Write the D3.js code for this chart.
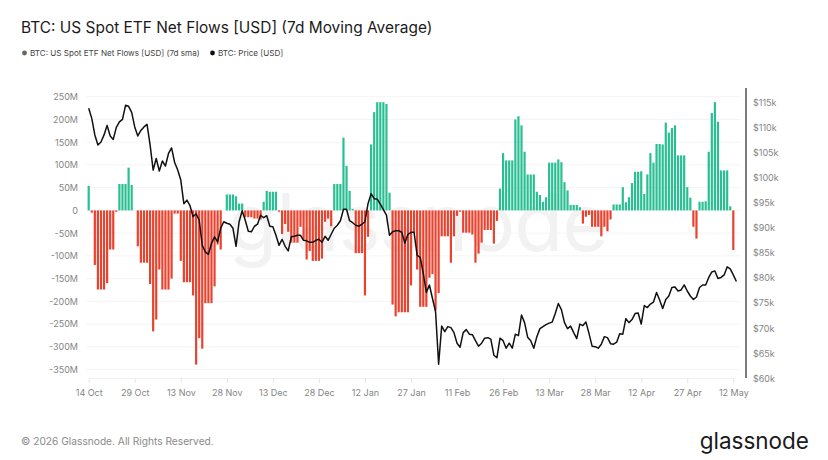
<!DOCTYPE html>
<html>
<head>
<meta charset="utf-8">
<script src="https://cdn.jsdelivr.net/npm/d3@7"></script>
<style>
html,body{margin:0;padding:0;background:#fff;}
svg{display:block;font-family:Inter,"Noto Sans",sans-serif;}
</style>
</head>
<body>
<svg id="chart" width="828" height="460"></svg>
<script>
const titleText = "BTC: US Spot ETF Net Flows [USD] (7d Moving Average)";
const legendLabels = ["BTC: US Spot ETF Net Flows [USD] (7d sma)", "BTC: Price [USD]"];
const startDate = "2025-10-14";
const xTickLabels = ["14 Oct","29 Oct","13 Nov","28 Nov","13 Dec","28 Dec","12 Jan","27 Jan","11 Feb","26 Feb","13 Mar","28 Mar","12 Apr","27 Apr","12 May"];
const leftTicks = [250,200,150,100,50,0,-50,-100,-150,-200,-250,-300,-350];
const rightTicks = [115,110,105,100,95,90,85,80,75,70,65,60];

// Daily 7d SMA net flows, $M
const flows = [
54,-5,-120,-174,-174,-174,-160,-86,-86,-3,
58,58,58,94,56,0,-79,-115,-115,-115,
-162,-266,-240,-130,-174,-174,-174,-150,-7,-7,
-111,-158,-158,-158,-187,-339,-281,-304,-204,-204,
-204,-167,-75,-86,0,35,35,35,31,15,
15,-15,-15,-15,-18,-18,-20,19,43,41,
41,41,-3,-52,-30,-47,-71,-71,-71,-36,
-64,-108,-89,-111,-111,-111,-106,-25,-18,-35,
58,58,58,160,98,43,3,-94,-94,-94,
-187,-58,145,216,238,238,238,234,39,-207,
-233,-224,-224,-224,-224,-165,-50,-130,-212,-212,
-212,-148,-140,-220,-182,-57,-57,-57,-115,-57,
-12,-3,-49,-49,-49,-53,-115,-95,-71,-43,
-43,-43,-73,-23,48,126,110,110,110,200,
207,187,129,79,79,79,41,34,19,29,
105,105,105,112,106,62,44,12,12,12,
7,-29,-14,-10,-36,-36,-36,-57,-36,-46,
-20,13,13,13,51,18,29,60,85,85,
86,36,79,126,105,146,146,145,193,171,
181,187,121,121,121,51,28,-36,-62,19,
19,20,129,214,238,195,88,88,88,9,-87];

// Daily BTC price, $k
const price = [
113.8,111.8,108.5,106.5,107.1,108.5,110.4,108.3,107.6,110,
111.1,111.6,114.4,114.2,113,110.1,108.3,109.4,110.1,110.6,
106.5,101.5,103.8,101.3,103.3,102.3,104.8,105.9,103,101.5,
99.5,94.8,95.5,94.4,92.2,92.8,91.5,86.5,85.2,84.7,
86.9,88.2,87.2,89.9,91.2,90.9,90.7,89.9,86.3,91.2,
93.4,91.5,89.3,89.2,90.3,90.7,92.5,92,92.4,90.3,
90.2,88.5,86.5,87.7,86.3,85.4,88.2,88.3,88.5,88.5,
87.5,87.4,87.1,87.1,87.5,87.7,87.1,88.3,87.5,88.7,
89.9,90.5,91.4,93.7,93.7,91.4,91,90.5,90.3,90.7,
91.2,94.8,96.8,95.8,95.7,94.7,93.6,92.5,88.5,89.2,
89.4,89.4,89.1,86.9,88.7,89.1,89.1,84.5,84.1,80.9,
77.1,78.6,75.9,73.3,62.8,70.4,69.3,70.3,70.1,69.1,
67,66.2,69.1,69.7,68.8,68.7,67.5,66.4,67,68,
68.1,67.8,64.6,64.1,68,67.5,66,67,66,68.8,
68.5,72.6,71.1,68.2,67.5,66,68.3,69.9,70.3,70.7,
71,71.2,72.9,74.9,73.7,71.1,69.9,70.4,69.1,67.9,
70.8,70.5,71.2,68.9,66.4,66.3,66,66.8,68.3,68.1,
66.9,66.8,67.2,68.9,68.8,71.9,71.1,71.7,72.9,73,
70.8,74.5,74.1,74.8,75.2,77.1,75.6,73.9,75.7,76.4,
78.1,78.2,77.4,77.6,78.6,77.4,76.4,75.7,76.2,78.1,
78.6,78.6,80.1,81.2,81.4,79.9,80.1,80.6,82.2,81.8,
80.6,79.3];

const svg = d3.select("#chart");
const t0 = d3.utcDay.floor(new Date(startDate + "T00:00:00Z"));
const dayAt = i => d3.utcDay.offset(t0, i);

const x = d3.scaleUtc().domain([t0, dayAt(210)]).range([88.7, 733.3]);
const yL = d3.scaleLinear().domain([0, 250]).range([210.4, 96.7]);
const yR = d3.scaleLinear().domain([60, 115]).range([378.3, 102.3]);

// Watermark
svg.append("text").attr("x", 418).attr("y", 251).attr("text-anchor", "middle")
  .attr("font-size", 80).attr("font-family", "Inter,sans-serif").attr("letter-spacing", "-1")
  .attr("fill", "#f2f2f2").text("glassnode");

// Grid
svg.append("g").selectAll("line").data(leftTicks).join("line")
  .attr("x1", 86).attr("x2", 740)
  .attr("y1", d => yL(d)).attr("y2", d => yL(d))
  .attr("stroke", "#f4f4f4").attr("stroke-width", 1);

// Bars
const barW = 2.2;
svg.append("g").selectAll("rect").data(flows).join("rect")
  .attr("x", (d, i) => x(dayAt(i)) - barW / 2)
  .attr("width", barW)
  .attr("y", d => d >= 0 ? yL(d) : yL(0))
  .attr("height", d => Math.abs(yL(d) - yL(0)))
  .attr("fill", d => d >= 0 ? "#2abf93" : "#e8432f");

// Price line
const line = d3.line().x((d, i) => x(dayAt(i))).y(d => yR(d)).curve(d3.curveLinear);
svg.append("path").datum(price).attr("d", line)
  .attr("fill", "none").attr("stroke", "#111").attr("stroke-width", 1.5).attr("stroke-linejoin", "round");

// Axes
const xAxis = d3.axisBottom(x)
  .tickValues(xTickLabels.map((_, i) => dayAt(i * 15)))
  .tickFormat((d, i) => xTickLabels[i]).tickSize(5).tickSizeOuter(0);
const gx = svg.append("g").attr("transform", "translate(0,378)").call(xAxis);
gx.select(".domain").attr("stroke", "#f2f2f2");
gx.selectAll(".tick line").attr("stroke", "#e6e6e6");
gx.selectAll("text").attr("font-size", 9).attr("fill", "#858585").attr("font-family", "Inter,sans-serif").attr("dy", "1.1em");

const leftFmt = d => d === 0 ? "0" : d + "M";
const gl = svg.append("g").attr("transform", "translate(78,0)")
  .call(d3.axisLeft(yL).tickValues(leftTicks).tickFormat(leftFmt).tickSize(0).tickPadding(0));
gl.select(".domain").remove();
gl.selectAll("text").attr("font-size", 9).attr("fill", "#858585").attr("font-family", "Inter,sans-serif");

const gr = svg.append("g").attr("transform", "translate(746,0)")
  .call(d3.axisRight(yR).tickValues(rightTicks).tickFormat(d => "$" + d + "k").tickSize(0).tickPadding(7));
gr.select(".domain").remove();
gr.selectAll("text").attr("font-size", 9).attr("fill", "#858585").attr("font-family", "Inter,sans-serif");
svg.append("line").attr("x1", 746).attr("x2", 746).attr("y1", 88).attr("y2", 378)
  .attr("stroke", "#444").attr("stroke-width", 1.4);

// Title
svg.append("text").attr("x", 21).attr("y", 33).attr("font-size", 15.45).attr("fill", "#1b1b1b")
  .attr("font-family", "Inter,sans-serif").text(titleText);

// Legend
svg.append("circle").attr("cx", 24.5).attr("cy", 53).attr("r", 2.4).attr("fill", "#666");
svg.append("text").attr("x", 30).attr("y", 56).attr("font-size", 8.1).attr("fill", "#444").text(legendLabels[0]);
svg.append("circle").attr("cx", 212.5).attr("cy", 53).attr("r", 2.4).attr("fill", "#111");
svg.append("text").attr("x", 218).attr("y", 56).attr("font-size", 8.1).attr("fill", "#444").text(legendLabels[1]);

// Footer
svg.append("text").attr("x", 21).attr("y", 445).attr("font-size", 10.2).attr("fill", "#8a8a8a")
  .text("© 2026 Glassnode. All Rights Reserved.");
svg.append("text").attr("x", 809).attr("y", 449).attr("text-anchor", "end").attr("font-size", 22.5)
  .attr("font-family", "Inter,sans-serif").attr("fill", "#1a1a1a").text("glassnode");
</script>
</body>
</html>
